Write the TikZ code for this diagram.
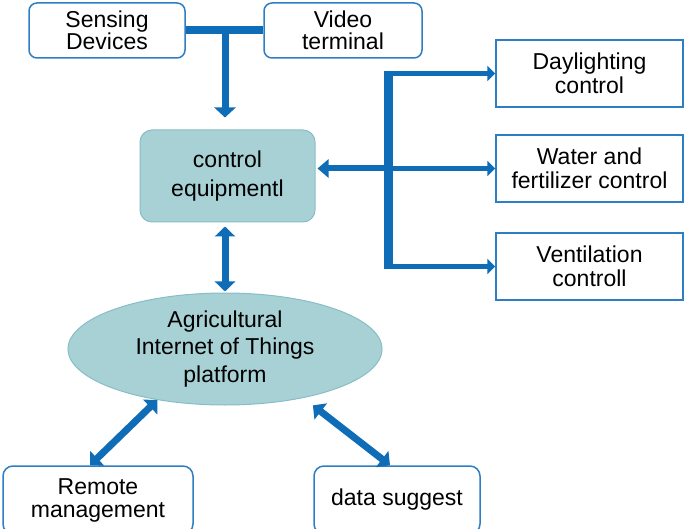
\documentclass[tikz,border=0pt]{standalone}
\usepackage{fontspec}
\setmainfont{Liberation Sans}
\usetikzlibrary{arrows.meta,shapes.geometric}
\definecolor{ablue}{HTML}{0F6CB6}
\definecolor{bblue}{HTML}{2E7EC4}
\definecolor{tealf}{HTML}{A8D1D5}
\definecolor{teald}{HTML}{86BEC5}
\begin{document}
\begin{tikzpicture}[x=1pt,y=-1pt,
  box/.style={draw=bblue, line width=1.5pt, fill=white, align=center, inner sep=0pt,
    font=\fontsize{23}{22}\selectfont},
  rbox/.style={box, rounded corners=8pt},
  sbox/.style={box, minimum width=187pt, minimum height=67pt, font=\fontsize{23}{24}\selectfont},
  bbox/.style={box, rounded corners=10pt, minimum height=68pt, font=\fontsize{23}{23}\selectfont},
  bigarrow/.style={line width=7pt, draw=ablue, -{Triangle[length=10pt,width=21pt]}},
  dbl/.style={line width=7pt, draw=ablue, {Triangle[length=10pt,width=20pt]}-{Triangle[length=10pt,width=20pt]}},
  branch/.style={line width=5pt, draw=ablue, -{Triangle[length=8pt,width=15pt]}},
  backarrow/.style={line width=6pt, draw=ablue, -{Triangle[length=11pt,width=18pt]}}
]
\useasboundingbox (0,0) rectangle (685,529);

% nodes
\node[rbox, minimum width=156pt, minimum height=55pt] (sd) at (107,30.5) {Sensing\\Devices};
\node[rbox, minimum width=158pt, minimum height=55pt] (vt) at (343,30.5) {Video\\terminal};
\node[draw=teald, fill=tealf, line width=1pt, rounded corners=12pt, align=center, inner sep=0pt,
  minimum width=175pt, minimum height=92pt, font=\fontsize{23}{29}\selectfont] (ce) at (227.5,176) {control\\equipmentl};
\node[sbox] (dl) at (589.5,73.5) {Daylighting\\control};
\node[sbox] (wf) at (589.5,168.5) {Water and\\fertilizer control};
\node[sbox] (vc) at (589.5,266.5) {Ventilation\\controll};
\node[ellipse, draw=teald, fill=tealf, line width=1pt, minimum width=314pt, minimum height=112pt,
  inner sep=0pt, align=center, font=\fontsize{23}{27.5}\selectfont] (pf) at (225,349)
  {Agricultural\\Internet of Things\\platform};
\node[bbox, minimum width=190pt] (rm) at (98,500) {Remote\\management};
\node[bbox, minimum width=166pt] (ds) at (397,500) {data suggest};

% top T connector
\coordinate (tj) at (225,30.5);
\draw[line width=8pt, ablue] (sd.east) -- (vt.west);
\draw[bigarrow, shorten >=12pt] (tj) -- (tj |- ce.north);

% right trunk
\coordinate (t1) at (388,73.5);
\coordinate (t2) at (388,168.5);
\coordinate (t3) at (388,266.5);
\draw[line width=9pt, ablue] ([yshift=2.5pt]t1) -- ([yshift=-2.5pt]t3);
\draw[branch] (t1) -- (t1 -| dl.west);
\draw[branch] (t2) -- (t2 -| wf.west);
\draw[branch] (t3) -- (t3 -| vc.west);
\draw[backarrow, shorten >=2pt] (t2) -- (t2 -| ce.east);

% control <-> platform
\draw[dbl, shorten <=4pt, shorten >=1pt] (pf.north |- ce.south) -- (pf.north);

% platform <-> bottom boxes
\draw[dbl] ([xshift=-8pt]rm.north) -- (pf.217);
\draw[dbl, shorten <=12pt] (pf.328) -- ([xshift=-7pt]ds.north);
\end{tikzpicture}
\end{document}
